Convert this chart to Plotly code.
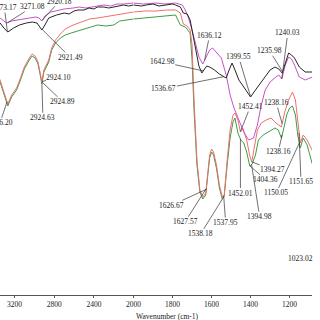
import numpy as np
import plotly.graph_objects as go

# ---------------- data (wavenumber cm-1, transmittance a.u.) ----------------
black_wn = [3367, 3347, 3308, 3269, 3210, 3151, 3082, 3023, 2974, 2944, 2925, 2895, 2856, 2777, 2700, 2650, 2600,
            2561, 2500, 2450, 2400, 2364, 2300, 2250, 2168, 2100, 2050, 2000, 1960, 1935, 1900, 1870, 1835, 1800,
            1785, 1760, 1745, 1725, 1710, 1695, 1680, 1665, 1650, 1640, 1625, 1610, 1585, 1560, 1525, 1510, 1495,
            1480, 1460, 1435, 1400, 1375, 1350, 1325, 1300, 1275, 1255, 1238, 1222, 1205, 1190, 1175, 1150, 1120,
            1085, 1070]
black_t = [273, 272, 267, 263, 267, 270, 272, 273, 272, 268, 265, 270, 277, 280, 282, 281, 284,
           285, 285, 287, 286, 288, 288, 287, 289, 290, 289, 290, 289, 290, 291, 289, 290, 291,
           290, 288, 282, 281, 275, 260, 243, 229, 222, 225, 229, 228, 225, 221, 217, 225, 232,
           225, 215, 208, 198, 205, 212, 219, 225, 228, 226, 222, 232, 242, 240, 237, 228, 223,
           223, 223]

magenta_wn = [3367, 3347, 3308, 3279, 3230, 3151, 3052, 2984, 2954, 2925, 2895, 2836, 2758, 2700, 2610, 2550, 2480,
              2364, 2300, 2230, 2168, 2100, 2000, 1950, 1885, 1840, 1785, 1750, 1735, 1720, 1700, 1685, 1665, 1645,
              1630, 1610, 1595, 1575, 1550, 1525, 1505, 1485, 1460, 1435, 1410, 1385, 1365, 1345, 1325, 1300, 1270,
              1255, 1240, 1222, 1205, 1190, 1175, 1150, 1120, 1085, 1070]
magenta_t = [278, 277, 274, 272, 274, 275, 277, 278, 277, 274, 279, 283, 285, 286, 287, 288, 287,
             289, 290, 289, 291, 291, 292, 291, 292, 291, 292, 290, 285, 278, 265, 252, 238, 231,
             237, 245, 247, 243, 237, 220, 200, 187, 175, 163, 155, 157, 170, 190, 205, 213, 218,
             220, 216, 230, 238, 236, 230, 218, 215, 218, 219]

red_wn = [3367, 3347, 3308, 3269, 3230, 3180, 3141, 3102, 3052, 3023, 2993, 2964, 2944, 2925, 2905, 2876, 2856,
          2826, 2787, 2738, 2689, 2610, 2531, 2443, 2364, 2300, 2217, 2150, 2069, 2000, 1940, 1885, 1830, 1785,
          1760, 1745, 1725, 1710, 1700, 1690, 1675, 1660, 1645, 1630, 1620, 1610, 1600, 1590, 1575, 1560, 1545,
          1535, 1520, 1505, 1490, 1480, 1465, 1452, 1440, 1420, 1405, 1394, 1385, 1365, 1345, 1320, 1295, 1270,
          1242, 1225, 1205, 1185, 1170, 1158, 1145, 1130, 1110, 1085, 1070]
red_t = [219, 215, 203, 191, 200, 207, 217, 228, 237, 241, 239, 233, 223, 213, 225, 232, 235,
         247, 255, 261, 266, 270, 273, 276, 277, 278, 280, 281, 282, 283, 284, 284, 285, 285,
         282, 271, 269, 265, 250, 195, 135, 105, 98, 102, 120, 140, 146, 143, 130, 110, 98,
         100, 135, 165, 180, 182, 175, 163, 167, 155, 140, 133, 143, 165, 172, 175, 177, 172,
         168, 183, 195, 203, 195, 172, 152, 160, 155, 145, 140]

green_wn = [3367, 3347, 3308, 3269, 3230, 3180, 3141, 3102, 3052, 3023, 2993, 2964, 2944, 2925, 2905, 2876, 2856,
            2826, 2787, 2738, 2689, 2630, 2531, 2443, 2364, 2280, 2200, 2140, 2070, 2000, 1935, 1870, 1785, 1760,
            1735, 1710, 1700, 1690, 1675, 1660, 1645, 1630, 1620, 1610, 1600, 1590, 1575, 1560, 1545, 1535, 1520,
            1505, 1490, 1480, 1465, 1450, 1435, 1420, 1404, 1392, 1375, 1360, 1335, 1310, 1275, 1258, 1242, 1228,
            1215, 1200, 1185, 1170, 1158, 1145, 1130, 1110, 1085, 1070]
green_t = [217, 213, 201, 189, 198, 205, 215, 226, 235, 239, 237, 231, 221, 211, 223, 230, 233,
           245, 252, 257, 260, 262, 265, 268, 270, 269, 270, 274, 275, 276, 277, 278, 280, 270,
           268, 262, 235, 185, 130, 103, 96, 100, 117, 137, 143, 140, 127, 107, 96, 99, 130,
           157, 173, 177, 162, 155, 152, 143, 129, 131, 140, 155, 160, 163, 167, 165, 157, 168,
           180, 187, 189, 180, 160, 147, 157, 150, 132, 125]

# peak labels: text, series, wavenumber
label_text = ["3273.17", "3271.08", "2920.18", "2921.49", "2924.10", "2924.89", "2924.63", "3276.20",
              "1642.98", "1536.67", "1636.12", "1399.55", "1240.03", "1235.98", "1452.41", "1238.16",
              "1238.16", "1394.27", "1404.36", "1151.65", "1150.05", "1452.01", "1626.67", "1627.57",
              "1537.95", "1538.18", "1394.98"]
label_series = ["black", "magenta", "magenta", "black", "red", "red", "green", "red",
                "black", "black", "magenta", "black", "magenta", "black", "red", "red",
                "green", "red", "green", "red", "green", "green", "green", "red",
                "red", "green", "green"]
label_wn = [3273.17, 3271.08, 2920.18, 2921.49, 2924.10, 2924.89, 2924.63, 3276.20,
            1642.98, 1536.67, 1636.12, 1399.55, 1240.03, 1235.98, 1452.41, 1238.16,
            1238.16, 1394.27, 1404.36, 1151.65, 1150.05, 1452.01, 1626.67, 1627.57,
            1537.95, 1538.18, 1394.98]
extra_label = "1023.02"

tick_left = [3200, 2800, 2400, 2000]
tick_right = [1800, 1600, 1400, 1200]
x_title = "Wavenumber (cm-1)"

# ---------------- style ----------------
label_offsets = [(-3, -24), (25, -16), (17, -19), (28, 28), (17, -4), (21, 20), (1, 34), (-9, 21),
                 (-41, -9), (-60, 12), (5, -25), (-12, -40), (6, -46), (-13, -21), (10, -25), (-6, -21),
                 (-4, 17), (21, 8), (16, 14), (2, 49), (-23, 50), (0, 54), (-35, 16), (-21, 33),
                 (2, 27), (-23, 37), (8, 52)]
colors = {"green": "#3f9a45", "red": "#ee6f6f", "magenta": "#c752c7", "black": "#262626"}
SERIF = "Liberation Serif"
BREAK = 2000
LEFT_RANGE = [3347.5, 2000]
RIGHT_RANGE = [2000, 1085]
SPLIT = 137 / 320

series = {
    "green": (green_wn, green_t),
    "red": (red_wn, red_t),
    "magenta": (magenta_wn, magenta_t),
    "black": (black_wn, black_t),
}

fig = go.Figure()
for name, (wn, t) in series.items():
    wn = np.asarray(wn, float)
    t = np.asarray(t, float)
    order = np.argsort(-wn)
    wn, t = wn[order], t[order]
    lm = wn >= BREAK
    rm = wn <= BREAK
    fig.add_trace(go.Scatter(x=wn[lm], y=t[lm], xaxis="x", yaxis="y", mode="lines",
                             line=dict(color=colors[name], width=1), showlegend=False, hoverinfo="skip"))
    fig.add_trace(go.Scatter(x=wn[rm], y=t[rm], xaxis="x2", yaxis="y", mode="lines",
                             line=dict(color=colors[name], width=1), showlegend=False, hoverinfo="skip"))

annotations = []
for txt, s, w, (ax, ay) in zip(label_text, label_series, label_wn, label_offsets):
    wn, t = series[s]
    wn = np.asarray(wn, float)[::-1]
    t = np.asarray(t, float)[::-1]
    yv = float(np.interp(w, wn, t))
    annotations.append(dict(
        x=w, y=yv, xref="x" if w > BREAK else "x2", yref="y",
        text=txt, showarrow=True, arrowhead=0, arrowwidth=0.7, arrowcolor="#333333",
        ax=ax, ay=ay, font=dict(family=SERIF, size=7.5, color="#1a1a1a"),
        borderpad=0, standoff=0,
    ))
annotations.append(dict(x=308 / 320, y=(295 - 258) / 295, xref="paper", yref="paper",
                        text=extra_label, showarrow=False, xanchor="center", yanchor="middle",
                        font=dict(family=SERIF, size=7.5, color="#1a1a1a")))
annotations.append(dict(x=172 / 320, y=-(316 - 295) / 295, xref="paper", yref="paper",
                        text=x_title, showarrow=False, xanchor="center", yanchor="middle",
                        font=dict(family=SERIF, size=7.5, color="#1a1a1a")))

axis_style = dict(showline=True, linecolor="#555555", linewidth=1, ticks="outside", ticklen=2,
                  tickcolor="#555555", tickwidth=1, showgrid=False, zeroline=False,
                  tickfont=dict(family=SERIF, size=7.5, color="#222222"))

fig.update_layout(
    width=320, height=320,
    margin=dict(l=0, r=0, t=0, b=25),
    paper_bgcolor="white", plot_bgcolor="white",
    showlegend=False,
    xaxis=dict(domain=[0, SPLIT], range=LEFT_RANGE, tickvals=tick_left, anchor="y", **axis_style),
    xaxis2=dict(domain=[SPLIT, 1], range=RIGHT_RANGE, tickvals=tick_right, anchor="y", **axis_style),
    yaxis=dict(range=[0, 295], visible=False, domain=[0, 1]),
    annotations=annotations,
)

fig.write_html("out.html", config={"displayModeBar": False})
